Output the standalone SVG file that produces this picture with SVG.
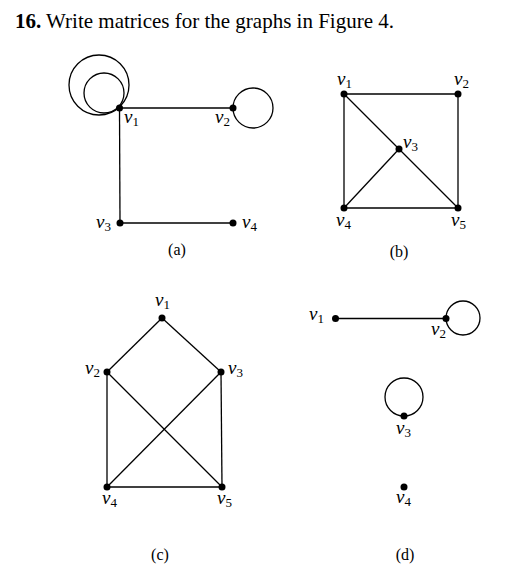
<svg xmlns="http://www.w3.org/2000/svg" width="524" height="566" viewBox="0 0 524 566">
<style>
.bg{fill:#fff}
.e{stroke:#000;stroke-width:1.3;fill:none}
.n{fill:#000}
.t{font-family:"Liberation Serif","Times New Roman",serif;fill:#000}
.lbl{font-family:"Liberation Serif","Times New Roman",serif;font-style:italic;font-size:19px;fill:#000}
.sub{font-style:normal;font-size:13px}
.cap{font-family:"Liberation Serif","Times New Roman",serif;font-size:16px;fill:#000;text-anchor:middle}
</style>
<rect class="bg" x="0" y="0" width="524" height="566"/>
<text class="t" x="15" y="28" font-size="21"><tspan font-weight="bold">16.</tspan> Write matrices for the graphs in Figure 4.</text>
<g id="connectors">
<!-- (a) -->
<circle class="e" cx="99" cy="85" r="30"/>
<circle class="e" cx="104" cy="93" r="20"/>
<line class="e" x1="119.5" y1="108" x2="233" y2="108"/>
<circle class="e" cx="253" cy="108" r="20"/>
<line class="e" x1="119.5" y1="108" x2="120" y2="223"/>
<line class="e" x1="120" y1="223" x2="233" y2="223"/>
<!-- (b) -->
<line class="e" x1="344" y1="94" x2="458" y2="94"/>
<line class="e" x1="458" y1="94" x2="458" y2="208"/>
<line class="e" x1="344" y1="94" x2="344" y2="208"/>
<line class="e" x1="344" y1="208" x2="458" y2="208"/>
<line class="e" x1="344" y1="94" x2="399" y2="149"/>
<line class="e" x1="399" y1="149" x2="458" y2="208"/>
<line class="e" x1="399" y1="149" x2="344" y2="208"/>
<!-- (c) -->
<line class="e" x1="162" y1="318" x2="107" y2="372"/>
<line class="e" x1="162" y1="318" x2="221" y2="372"/>
<line class="e" x1="107" y1="372" x2="107" y2="487"/>
<line class="e" x1="221" y1="372" x2="222" y2="487"/>
<line class="e" x1="107" y1="487" x2="222" y2="487"/>
<line class="e" x1="107" y1="372" x2="222" y2="487"/>
<line class="e" x1="221" y1="372" x2="107" y2="487"/>
<!-- (d) -->
<line class="e" x1="335.5" y1="318.5" x2="446" y2="318.5"/>
<circle class="e" cx="463" cy="318" r="17"/>
<circle class="e" cx="404" cy="397" r="19"/>
</g>
<g id="a-v1"><circle class="n" cx="119.5" cy="108" r="3.5"/><text class="lbl" x="124" y="123">v<tspan class="sub" dy="3">1</tspan></text></g>
<g id="a-v2"><circle class="n" cx="233" cy="108" r="3.5"/><text class="lbl" x="215" y="123">v<tspan class="sub" dy="3">2</tspan></text></g>
<g id="a-v3"><circle class="n" cx="120" cy="223" r="3.5"/><text class="lbl" x="96" y="228">v<tspan class="sub" dy="3">3</tspan></text></g>
<g id="a-v4"><circle class="n" cx="233" cy="223" r="3.5"/><text class="lbl" x="242" y="228">v<tspan class="sub" dy="3">4</tspan></text></g>
<text class="cap" x="177" y="255">(a)</text>
<g id="b-v1"><circle class="n" cx="344" cy="94" r="3.5"/><text class="lbl" x="337" y="85">v<tspan class="sub" dy="3">1</tspan></text></g>
<g id="b-v2"><circle class="n" cx="458" cy="94" r="3.5"/><text class="lbl" x="454" y="85">v<tspan class="sub" dy="3">2</tspan></text></g>
<g id="b-v3"><circle class="n" cx="399" cy="149" r="3.5"/><text class="lbl" x="403" y="148">v<tspan class="sub" dy="3">3</tspan></text></g>
<g id="b-v4"><circle class="n" cx="344" cy="208" r="3.5"/><text class="lbl" x="336" y="226">v<tspan class="sub" dy="3">4</tspan></text></g>
<g id="b-v5"><circle class="n" cx="458" cy="208" r="3.5"/><text class="lbl" x="451" y="226">v<tspan class="sub" dy="3">5</tspan></text></g>
<text class="cap" x="399" y="257">(b)</text>
<g id="c-v1"><circle class="n" cx="162" cy="318" r="3.5"/><text class="lbl" x="155" y="306">v<tspan class="sub" dy="3">1</tspan></text></g>
<g id="c-v2"><circle class="n" cx="107" cy="372" r="3.5"/><text class="lbl" x="85" y="374">v<tspan class="sub" dy="3">2</tspan></text></g>
<g id="c-v3"><circle class="n" cx="221" cy="372" r="3.5"/><text class="lbl" x="228" y="374">v<tspan class="sub" dy="3">3</tspan></text></g>
<g id="c-v4"><circle class="n" cx="107" cy="487" r="3.5"/><text class="lbl" x="102" y="504">v<tspan class="sub" dy="3">4</tspan></text></g>
<g id="c-v5"><circle class="n" cx="222" cy="487" r="3.5"/><text class="lbl" x="217" y="504">v<tspan class="sub" dy="3">5</tspan></text></g>
<text class="cap" x="160" y="560">(c)</text>
<g id="d-v1"><circle class="n" cx="335.5" cy="318.5" r="3.5"/><text class="lbl" x="309" y="320">v<tspan class="sub" dy="3">1</tspan></text></g>
<g id="d-v2"><circle class="n" cx="446" cy="318.5" r="3.5"/><text class="lbl" x="431" y="335">v<tspan class="sub" dy="3">2</tspan></text></g>
<g id="d-v3"><circle class="n" cx="404" cy="416" r="3.5"/><text class="lbl" x="396" y="434">v<tspan class="sub" dy="3">3</tspan></text></g>
<g id="d-v4"><circle class="n" cx="404" cy="487" r="3.5"/><text class="lbl" x="396" y="503">v<tspan class="sub" dy="3">4</tspan></text></g>
<text class="cap" x="405" y="560">(d)</text>
</svg>
